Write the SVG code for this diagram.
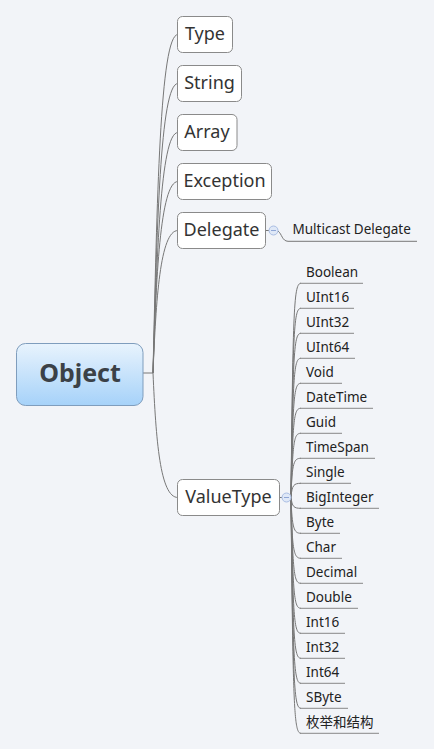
<svg xmlns="http://www.w3.org/2000/svg" width="434" height="749" viewBox="0 0 434 749">
<defs>
<linearGradient id="g" x1="0" y1="0" x2="0" y2="1">
<stop offset="0" stop-color="#e8f3fd"/>
<stop offset="1" stop-color="#a6d2f9"/>
</linearGradient>
<style>
.box{fill:#fff;stroke:#8a8a8a;stroke-width:1}
.t1{font-family:"Noto Sans","Open Sans",sans-serif;font-size:18px;fill:#333;text-anchor:middle}
.t2{font-family:"Noto Sans","Noto Sans CJK SC",sans-serif;font-size:13.5px;fill:#222}
.c{fill:none;stroke:#777;stroke-width:1}
.u{fill:none;stroke:#888;stroke-width:1}
.k{fill:#dfe8f7;stroke:#a9bde3;stroke-width:1}
</style>
</defs>
<rect width="434" height="749" fill="#f2f4f8"/>
<g id="connectors">
<path class="c" d="M143,373 H153"/>
<path class="c" d="M153,373 C157,200 160,34.5 178,34.5"/>
<path class="c" d="M153,373 C157,230 160,83.5 178,83.5"/>
<path class="c" d="M153,373 C157,260 160,132.5 178,132.5"/>
<path class="c" d="M153,373 C156,280 160,181.5 178,181.5"/>
<path class="c" d="M153,373 C156,300 160,230.5 178,230.5"/>
<path class="c" d="M153,373 C156,440 160,497.5 178,497.5"/>
<path class="c" d="M265,230.5 H269"/>
<path class="c" d="M278,231 C282,234 282,241 288,241.3 H417"/>
<path class="c" d="M279,497.5 H282"/>
<g id="vt-links">
<path class="c" d="M291,497 C293,305 294,283.3 301,283.3"/>
<path class="c" d="M291,497 C293,327 294,308.3 301,308.3"/>
<path class="c" d="M291,497 C293,350 294,333.3 301,333.3"/>
<path class="c" d="M291,497 C293,372 294,358.3 301,358.3"/>
<path class="c" d="M291,497 C293,395 294,383.3 301,383.3"/>
<path class="c" d="M291,497 C293,417 294,408.3 301,408.3"/>
<path class="c" d="M291,497 C293,440 294,433.3 301,433.3"/>
<path class="c" d="M291,497 C292,462 294,458.3 301,458.3"/>
<path class="c" d="M291,497 C292,485 294,483.3 301,483.3"/>
<path class="c" d="M291,497 C292,507 294,508.3 301,508.3"/>
<path class="c" d="M291,497 C292,529 294,533.3 301,533.3"/>
<path class="c" d="M291,497 C292,552 294,558.3 301,558.3"/>
<path class="c" d="M291,497 C293,575 294,583.3 301,583.3"/>
<path class="c" d="M291,497 C293,597 294,608.3 301,608.3"/>
<path class="c" d="M291,497 C293,620 294,633.3 301,633.3"/>
<path class="c" d="M291,497 C293,642 294,658.3 301,658.3"/>
<path class="c" d="M291,497 C293,665 294,683.3 301,683.3"/>
<path class="c" d="M291,497 C293,687 294,708.3 301,708.3"/>
<path class="c" d="M291,497 C293,710 294,733.3 301,733.3"/>
</g>
</g>
<g id="object">
<rect x="16.5" y="343.5" width="126.5" height="62" rx="9" fill="url(#g)" stroke="#7f9dbd" stroke-width="1"/>
<text x="80" y="381.5" font-family="'Noto Sans','Open Sans',sans-serif" font-size="25" font-weight="bold" fill="#3b4147" text-anchor="middle">Object</text>
</g>
<g id="type"><rect class="box" x="177.5" y="16.5" width="55" height="36" rx="5"/><text class="t1" x="205" y="39.5">Type</text></g>
<g id="string"><rect class="box" x="177.5" y="65.5" width="64" height="36" rx="5"/><text class="t1" x="209.5" y="88.5">String</text></g>
<g id="array"><rect class="box" x="177.5" y="114.5" width="59.5" height="36" rx="5"/><text class="t1" x="207" y="137.5">Array</text></g>
<g id="exception"><rect class="box" x="177.5" y="163.5" width="94" height="36" rx="5"/><text class="t1" x="224.5" y="186.5">Exception</text></g>
<g id="delegate"><rect class="box" x="177.5" y="212.5" width="88" height="36" rx="5"/><text class="t1" x="221.5" y="235.5">Delegate</text>
<circle class="k" cx="273.5" cy="230.5" r="4.5"/><path d="M271,230.5 H276" stroke="#8fa6d6" stroke-width="1"/></g>
<g id="multicast"><text class="t2" x="292.5" y="234">Multicast Delegate</text></g>
<g id="valuetype"><rect class="box" x="177.5" y="479.5" width="102" height="36" rx="5"/><text class="t1" x="228.5" y="502.5">ValueType</text>
<circle class="k" cx="286.5" cy="497.5" r="4.5"/><path d="M284,497.5 H289" stroke="#8fa6d6" stroke-width="1"/></g>
<g id="vt-items">
<g id="boolean"><text class="t2" x="306" y="277.3">Boolean</text><path class="u" d="M300,283.3 H363"/></g>
<g id="uint16"><text class="t2" x="306" y="302.3">UInt16</text><path class="u" d="M300,308.3 H354"/></g>
<g id="uint32"><text class="t2" x="306" y="327.3">UInt32</text><path class="u" d="M300,333.3 H354"/></g>
<g id="uint64"><text class="t2" x="306" y="352.3">UInt64</text><path class="u" d="M300,358.3 H355"/></g>
<g id="void"><text class="t2" x="306" y="377.3">Void</text><path class="u" d="M300,383.3 H342"/></g>
<g id="datetime"><text class="t2" x="306" y="402.3">DateTime</text><path class="u" d="M300,408.3 H373"/></g>
<g id="guid"><text class="t2" x="306" y="427.3">Guid</text><path class="u" d="M300,433.3 H342"/></g>
<g id="timespan"><text class="t2" x="306" y="452.3">TimeSpan</text><path class="u" d="M300,458.3 H375"/></g>
<g id="single"><text class="t2" x="306" y="477.3">Single</text><path class="u" d="M300,483.3 H351"/></g>
<g id="biginteger"><text class="t2" x="306" y="502.3">BigInteger</text><path class="u" d="M300,508.3 H379"/></g>
<g id="byte"><text class="t2" x="306" y="527.3">Byte</text><path class="u" d="M300,533.3 H340"/></g>
<g id="char"><text class="t2" x="306" y="552.3">Char</text><path class="u" d="M300,558.3 H342"/></g>
<g id="decimal"><text class="t2" x="306" y="577.3">Decimal</text><path class="u" d="M300,583.3 H363"/></g>
<g id="double"><text class="t2" x="306" y="602.3">Double</text><path class="u" d="M300,608.3 H358"/></g>
<g id="int16"><text class="t2" x="306" y="627.3">Int16</text><path class="u" d="M300,633.3 H345"/></g>
<g id="int32"><text class="t2" x="306" y="652.3">Int32</text><path class="u" d="M300,658.3 H345"/></g>
<g id="int64"><text class="t2" x="306" y="677.3">Int64</text><path class="u" d="M300,683.3 H345"/></g>
<g id="sbyte"><text class="t2" x="306" y="702.3">SByte</text><path class="u" d="M300,708.3 H348"/></g>
<g id="enumstruct"><text class="t2" x="306" y="727.3">枚举和结构</text><path class="u" d="M300,733.3 H379"/></g>
</g>
</svg>
